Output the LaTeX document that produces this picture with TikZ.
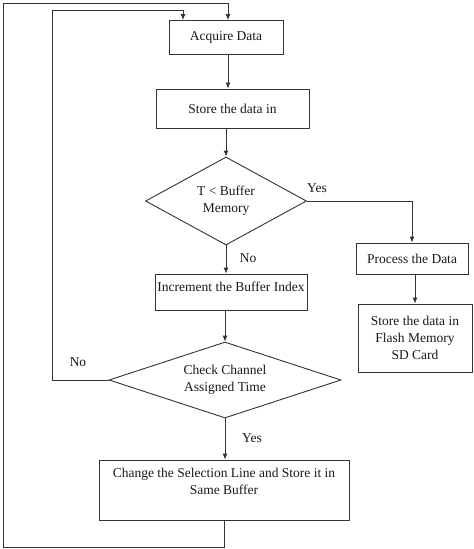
\documentclass[tikz,border=0pt]{standalone}
\usepackage{fontspec}
\setmainfont{Liberation Serif}
\usetikzlibrary{shapes.geometric,arrows.meta}
\begin{document}
\begin{tikzpicture}[x=1pt,y=-1pt,
  font=\fontsize{13.5}{17}\selectfont,
  line/.style={draw=black!80, line width=0.9pt},
  arr/.style={line, -{Latex[length=6pt,width=5pt]}},
  box/.style={draw=black!80, line width=0.9pt, rectangle, inner sep=0pt, align=center, text=black!90},
  dec/.style={draw=black!80, line width=0.9pt, diamond, inner sep=0pt, aspect=3, align=center, text=black!90},
  lab/.style={text=black!90, inner sep=0pt}]
\useasboundingbox (0,0) rectangle (474,549);
\node[box, minimum width=114pt, minimum height=34pt] (acq) at (226,37) {Acquire Data};
\node[box, minimum width=153pt, minimum height=39pt] (store) at (232.5,108.5) {Store the data in};
\node[dec, minimum width=161pt, minimum height=88pt] (d1) at (226,201) {T < Buffer\\Memory};
\node[box, minimum width=152pt, minimum height=36pt] (inc) at (231,292) {Increment the Buffer Index\\[-6pt]\mbox{}};
\node[box, minimum width=112pt, minimum height=31pt] (proc) at (412,258.5) {Process the Data};
\node[box, minimum width=114pt, minimum height=68pt] (flash) at (415,338) {Store the data in\\Flash Memory\\SD Card};
\node[dec, minimum width=232pt, minimum height=76pt] (d2) at (225,380) {Check Channel\\Assigned Time};
\node[box, minimum width=250pt, minimum height=60pt] (chg) at (224,490) {Change the Selection Line and Store it in\\Same Buffer\\\mbox{}};
\node[lab] (ly1) at (317,188) {Yes};
\node[lab] (ln1) at (248,258) {No};
\node[lab] (ln2) at (78,362) {No};
\node[lab] (ly2) at (252,438) {Yes};
\coordinate (c1) at (52,10);
\coordinate (c2) at (3,3);
\coordinate (c3) at (224,547);
\coordinate (t1) at (183,20);
\coordinate (t2) at (228,20);
\draw[arr] (t2 |- acq.south) -- (t2 |- store.north);
\draw[arr] (d1.north |- store.south) -- (d1.north);
\draw[arr] (d1.east) -| (proc.north);
\draw[arr] (d1.south) -- (d1.south |- inc.north);
\draw[arr] (proc.south -| flash.north) -- (flash.north);
\draw[arr] (d2.north |- inc.south) -- (d2.north);
\draw[arr] (d2.south) -- (d2.south |- chg.north);
\draw[arr] (d2.west) -| (c1) -| (t1);
\draw[arr] (chg.south) -- (c3) -| (c2) -| (t2);
\end{tikzpicture}
\end{document}
